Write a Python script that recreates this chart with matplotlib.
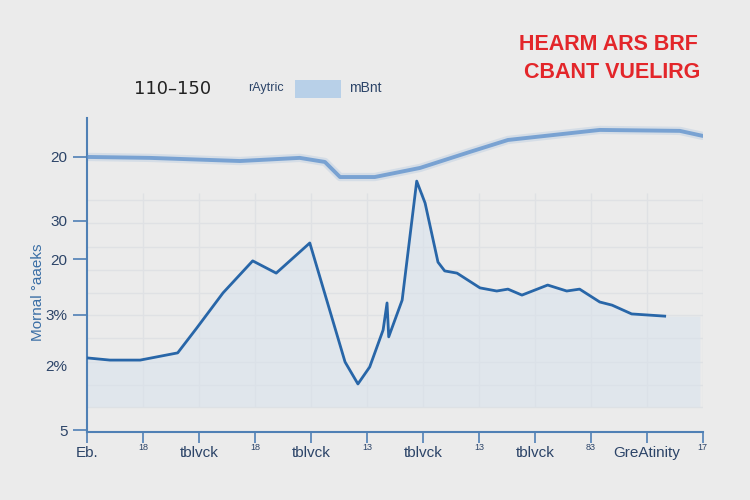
import matplotlib
matplotlib.use('Agg')
import matplotlib.pyplot as plt
import numpy as np

plt.rcParams['font.family'] = ['Liberation Sans', 'DejaVu Sans']

# upper (soft) line
upper_x = [0, 1.12, 2.73, 3.8, 4.25, 4.52, 5.14, 5.95, 6.84, 7.52, 9.16, 10.59, 11.0]
upper_y = [87.6, 87.3, 86.3, 87.3, 86.0, 81.2, 81.2, 84.1, 89.2, 93.0, 96.2, 95.9, 94.3]

# main line
main_x = [0, 0.41, 0.95, 1.62, 1.96, 2.43, 2.96, 3.38, 3.98, 4.61, 4.84, 5.05, 5.29,
          5.36, 5.39, 5.63, 5.89, 6.04, 6.27, 6.39, 6.61, 7.02, 7.32, 7.52, 7.77,
          8.23, 8.57, 8.80, 9.16, 9.38, 9.73, 10.32]
main_y = [23.6, 22.9, 22.9, 25.2, 33.1, 44.3, 54.5, 50.6, 60.2, 22.3, 15.3, 20.7, 32.5,
          41.1, 30.3, 42.0, 79.9, 72.9, 54.1, 51.3, 50.6, 45.9, 44.9, 45.5, 43.6,
          46.8, 44.9, 45.5, 41.4, 40.4, 37.6, 36.9]

x_ticks = list(range(12))
x_labels = ['Eb.', '18', 'tblvck', '18', 'tblvck', '13', 'tblvck', '13',
            'tblvck', '83', 'GreAtinity', '17']
y_ticks = [87.6, 67.2, 55.0, 37.3, 21.3, 0.6]
y_labels = ['20', '30', '20', '3%', '2%', '5']
grid_y = [8, 15, 22.3, 29.9, 37.3, 44.3, 51.6, 58.9, 66.6, 73.9]

bg = '#ebebeb'
navy = '#2c4468'
spine_blue = '#4f80b5'

fig = plt.figure(figsize=(7.5, 5), dpi=100, facecolor=bg)
ax = fig.add_axes([0.116, 0.136, 0.821, 0.628])
ax.set_facecolor(bg)
ax.set_xlim(0, 11)
ax.set_ylim(0, 100)

# faint grid
ax.hlines(grid_y, 0, 11, colors='#dfe1e4', lw=1, zorder=0)
ax.vlines(x_ticks[1:], 8, 76, colors='#dfe1e4', lw=1, zorder=0)

# fill under the main line, extended to the right edge
fx = main_x + [10.95]
fy = main_y + [main_y[-1]]
ax.fill_between(fx, 8, fy, color='#d8e2ed', alpha=0.55, lw=0, zorder=1)

ax.plot(upper_x, upper_y, color='#5a8fcc', lw=6, alpha=0.15, solid_capstyle='round', zorder=2)
ax.plot(upper_x, upper_y, color='#5a8fcc', lw=2.8, alpha=0.75, solid_capstyle='round', zorder=3)
ax.plot(main_x, main_y, color='#2866a8', lw=2, zorder=4)

for s in ['top', 'right']:
    ax.spines[s].set_visible(False)
for s in ['left', 'bottom']:
    ax.spines[s].set_color(spine_blue)
    ax.spines[s].set_linewidth(1.5)

ax.set_yticks(y_ticks)
ax.set_yticklabels(y_labels, fontsize=11, color=navy)
ax.tick_params(axis='y', length=10, width=1.2, color=spine_blue, pad=4)
ax.yaxis.get_major_ticks()[4].tick1line.set_visible(False)

ax.set_xticks(x_ticks)
ax.set_xticklabels([])
ax.tick_params(axis='x', length=8, width=1.2, color=spine_blue)
for xi, lab in zip(x_ticks, x_labels):
    if lab.isdigit():
        ax.text(xi, -0.05, lab, fontsize=6.5, color=navy, ha='center', va='center',
                transform=ax.get_xaxis_transform())
    else:
        ax.text(xi, -0.045, lab, fontsize=11, color=navy, ha='center', va='top',
                transform=ax.get_xaxis_transform())

fig.text(0.05, 0.415, 'Mornal °aaeks', rotation=90, fontsize=11, color='#3a6ea5',
         ha='center', va='center')

# header row
fig.text(0.23, 0.823, '110–150', fontsize=13, color='#222222', ha='center', va='center',
         family='DejaVu Sans')
fig.text(0.355, 0.823, 'rAytric', fontsize=9, color=navy, ha='center', va='center')
fig.patches.append(plt.Rectangle((0.393, 0.805), 0.061, 0.035, transform=fig.transFigure,
                                 facecolor='#b8d0e8', edgecolor='none'))
fig.text(0.487, 0.823, 'mBnt', fontsize=10, color=navy, ha='center', va='center')

fig.text(0.811, 0.91, 'HEARM ARS BRF', fontsize=15.5, fontweight='bold', color='#e3262a',
         ha='center', va='center')
fig.text(0.816, 0.854, 'CBANT VUELIRG', fontsize=15.5, fontweight='bold', color='#e3262a',
         ha='center', va='center')

fig.savefig('out.png', dpi=100, facecolor=bg)
